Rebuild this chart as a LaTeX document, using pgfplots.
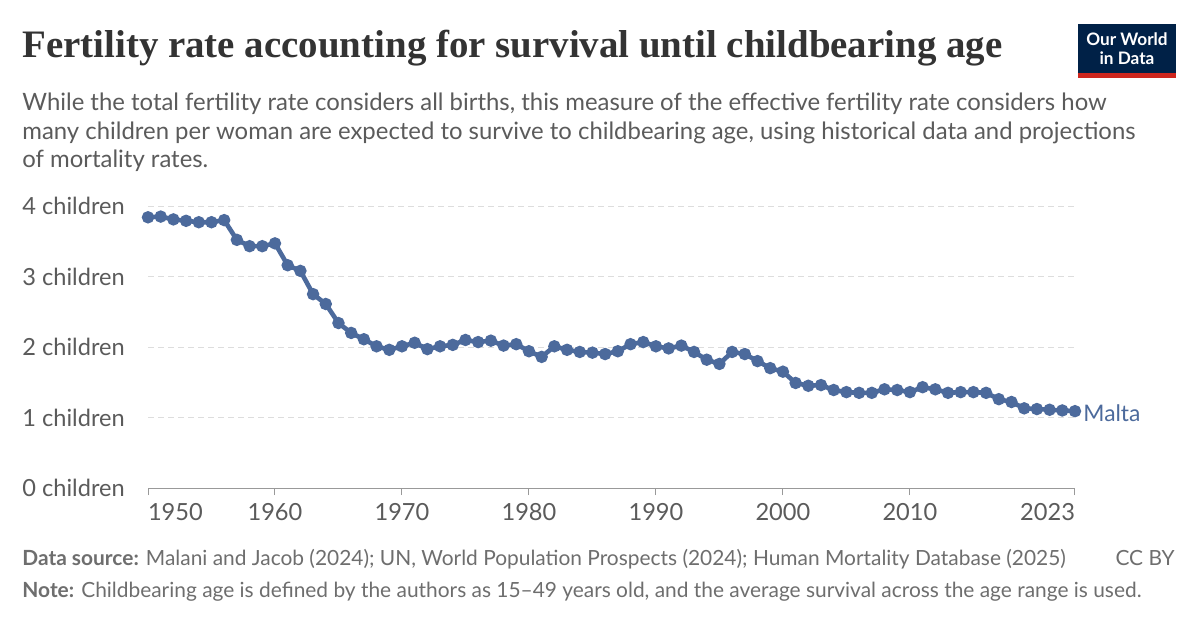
\documentclass[border=0pt]{standalone}
\usepackage{pgfplots}
\usepackage{pgfplotstable}
\pgfplotsset{compat=1.18}
\usepackage{fontspec}
\setmainfont{Lato}
\newfontfamily\titlefont{Liberation Serif}

\definecolor{owidblue}{HTML}{4C6A9C}
\definecolor{txtgray}{HTML}{5B5B5B}
\definecolor{footgray}{HTML}{6E6E6E}
\definecolor{titlegray}{HTML}{333333}
\definecolor{gridgray}{HTML}{DDDDDD}
\definecolor{axisgray}{HTML}{999999}
\definecolor{owidnavy}{HTML}{002147}
\definecolor{owidred}{HTML}{CE261E}

% Effective fertility rate, Malta (children per woman surviving to childbearing age)
\pgfplotstableread{
year value
1950 3.84
1951 3.85
1952 3.81
1953 3.79
1954 3.77
1955 3.77
1956 3.80
1957 3.52
1958 3.43
1959 3.43
1960 3.47
1961 3.16
1962 3.08
1963 2.75
1964 2.61
1965 2.34
1966 2.20
1967 2.11
1968 2.01
1969 1.96
1970 2.01
1971 2.06
1972 1.97
1973 2.01
1974 2.03
1975 2.10
1976 2.07
1977 2.09
1978 2.02
1979 2.04
1980 1.94
1981 1.86
1982 2.01
1983 1.96
1984 1.93
1985 1.92
1986 1.90
1987 1.94
1988 2.04
1989 2.07
1990 2.01
1991 1.98
1992 2.02
1993 1.93
1994 1.82
1995 1.76
1996 1.93
1997 1.90
1998 1.80
1999 1.70
2000 1.65
2001 1.49
2002 1.45
2003 1.46
2004 1.39
2005 1.36
2006 1.35
2007 1.35
2008 1.40
2009 1.39
2010 1.36
2011 1.43
2012 1.40
2013 1.35
2014 1.36
2015 1.36
2016 1.35
2017 1.26
2018 1.22
2019 1.13
2020 1.12
2021 1.11
2022 1.10
2023 1.09
}\malta

\begin{document}
\begin{tikzpicture}[x=0.5pt,y=-0.5pt]
% canvas
\fill[white] (0,0) rectangle (1200,627);

% title and subtitle
\node[anchor=base west, inner sep=0, text=titlegray]
  at (22,57) {\titlefont\bfseries\fontsize{19.45}{22}\selectfont Fertility rate accounting for survival until childbearing age};
\begin{scope}[every node/.style={anchor=base west, inner sep=0, text=txtgray, font=\fontsize{11.95}{14}\selectfont}]
\node at (22,110) {While the total fertility rate considers all births, this measure of the effective fertility rate considers how};
\node at (22,139) {many children per woman are expected to survive to childbearing age, using historical data and projections};
\node at (22,167) {of mortality rates.};
\end{scope}

% logo
\fill[owidnavy] (1078,24) rectangle (1176,74);
\fill[owidred] (1078,73) rectangle (1176,78);
\node[text=white, inner sep=0, anchor=base, font=\bfseries\fontsize{8.6}{10}\selectfont] at (1127,45) {Our World};
\node[text=white, inner sep=0, anchor=base, font=\bfseries\fontsize{8.6}{10}\selectfont] at (1127,64) {in Data};

% footer
\begin{scope}[every node/.style={inner sep=0, text=footgray, font=\fontsize{10.45}{12}\selectfont}]
\node[anchor=base west] at (22,565) {\textbf{Data source:} Malani and Jacob (2024); UN, World Population Prospects (2024); Human Mortality Database (2025)};
\node[anchor=base east] at (1175,565) {CC BY};
\node[anchor=base west] at (22,597) {\textbf{Note:} Childbearing age is defined by the authors as 15–49 years old, and the average survival across the age range is used.};
\end{scope}

\begin{axis}[
  at={(74pt,-244pt)}, anchor=south west,
  scale only axis, width=463.5pt, height=141pt,
  xmin=1950, xmax=2023, ymin=0, ymax=4,
  enlargelimits=false, clip=false,
  axis lines*=left,
  x axis line style={draw=axisgray, line width=0.5pt},
  y axis line style={draw=none},
  xtick={1950,1960,1970,1980,1990,2000,2010,2023},
  xticklabels={\makebox[0pt][l]{1950},1960,1970,1980,1990,2000,2010,\makebox[0pt][r]{2023}},
  ytick={0,1,2,3,4},
  yticklabels={0 children,1 children,2 children,3 children,4 children},
  tick align=outside,
  major tick length=3.5pt,
  xtick style={draw=axisgray, line width=0.5pt},
  ytick style={draw=none},
  ymajorgrids,
  grid style={draw=gridgray, line width=0.5pt, dash pattern=on 3pt off 2pt},
  ticklabel style={text=txtgray, font=\fontsize{11.8}{13}\selectfont},
  yticklabel style={anchor=west, inner sep=0pt, xshift=-59.5pt},
  xticklabel style={inner sep=0pt, yshift=-4pt},
]
\addplot[owidblue, line width=2.3pt, mark=*, mark size=1.9pt,
  mark options={fill=owidblue, draw=owidblue}] table[x=year, y=value] {\malta};
\node[anchor=west, inner sep=0, text=owidblue, font=\fontsize{11.4}{13}\selectfont]
  at (axis cs:2023,1.09) [xshift=4pt, yshift=-1pt] {Malta};
\end{axis}
\end{tikzpicture}
\end{document}
